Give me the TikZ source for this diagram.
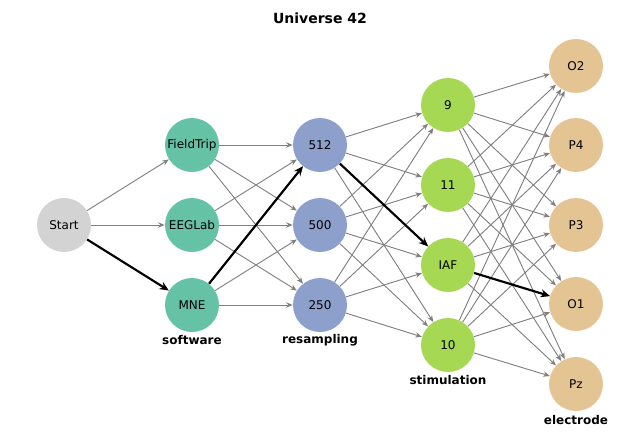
\documentclass[tikz,border=0pt]{standalone}
\usepackage{fontspec}
\setmainfont{DejaVu Sans}
\usetikzlibrary{arrows.meta}
\definecolor{startcol}{HTML}{D3D3D3}
\definecolor{softcol}{HTML}{66C2A5}
\definecolor{resacol}{HTML}{8DA0CB}
\definecolor{stimcol}{HTML}{A6D854}
\definecolor{elecol}{HTML}{E5C494}
\def\stagenode{\node[stage]}
\def\drawedge{\draw[edge]}
\def\drawbest{\draw[best]}

\begin{document}
\begin{tikzpicture}[x=0.75pt,y=-0.75pt,font=\fontsize{9}{11}\selectfont,
  stage/.style={circle,minimum size=40.5pt,inner sep=0pt},
  edge/.style={gray,line width=0.7pt,-{Stealth[length=5pt,width=4pt]}},
  best/.style={black,line width=1.6pt,-{Stealth[length=7pt,width=6pt]}},
  caption/.style={font=\fontsize{9}{11}\selectfont\bfseries}]
\useasboundingbox (0,0) rectangle (640,439);
\node[font=\fontsize{10.5}{12}\selectfont\bfseries] (title) at (320,18) {Universe 42};

% Stages
\stagenode[fill=startcol] (start) at (64,225) {Start};
\stagenode[fill=softcol] (fieldtrip) at (192,145) {FieldTrip};
\stagenode[fill=softcol] (eeglab) at (192,225) {EEGLab};
\stagenode[fill=softcol] (mne) at (192,305) {MNE};
\stagenode[fill=resacol] (r512) at (320,145) {512};
\stagenode[fill=resacol] (r500) at (320,225) {500};
\stagenode[fill=resacol] (r250) at (320,305) {250};
\stagenode[fill=stimcol] (s9) at (448,105) {9};
\stagenode[fill=stimcol] (s11) at (448,185) {11};
\stagenode[fill=stimcol] (siaf) at (448,265) {IAF};
\stagenode[fill=stimcol] (s10) at (448,345) {10};
\stagenode[fill=elecol] (eO2) at (576,66) {O2};
\stagenode[fill=elecol] (eP4) at (576,145) {P4};
\stagenode[fill=elecol] (eP3) at (576,225) {P3};
\stagenode[fill=elecol] (eO1) at (576,304) {O1};
\stagenode[fill=elecol] (ePz) at (576,384) {Pz};

% Captions
\node[caption] (capsoft) at (192,340) {software};
\node[caption] (capres) at (320,340) {resampling};
\node[caption] (capstim) at (448,380) {stimulation};
\node[caption] (capele) at (576,420) {electrode};

% All edges
\foreach \b in {fieldtrip,eeglab}
  \drawedge (start) -- (\b);
\foreach \a in {fieldtrip,eeglab,mne}
  \foreach \b in {r512,r500,r250}
    \drawedge (\a) -- (\b);
\foreach \a in {r512,r500,r250}
  \foreach \b in {s9,s11,siaf,s10}
    \drawedge (\a) -- (\b);
\foreach \a in {s9,s11,siaf,s10}
  \foreach \b in {eO2,eP4,eP3,eO1,ePz}
    \drawedge (\a) -- (\b);

% Chosen path
\drawbest (start) -- (mne);
\drawbest (mne) -- (r512);
\drawbest (r512) -- (siaf);
\drawbest (siaf) -- (eO1);
\end{tikzpicture}
\end{document}
